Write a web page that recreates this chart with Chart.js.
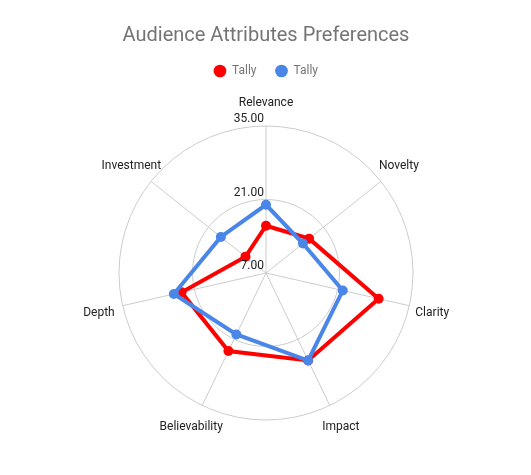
<!DOCTYPE html>
<html>
<head>
<meta charset="utf-8">
<script src="https://cdn.jsdelivr.net/npm/chart.js@4"></script>
<style>
	html, body { margin: 0; padding: 0; background: #fff; }
	#wrap { width: 531px; height: 475px; }
</style>
</head>
<body>
<div id="wrap"><canvas id="radar"></canvas></div>
<script>
// podatki
let atributi = ["Relevance", "Novelty", "Clarity", "Impact", "Believability", "Depth", "Investment"];
let tallyRdeca = [16, 17.5, 29, 25.5, 23.5, 23.5, 12];
let tallyModra = [20, 16, 22, 25.5, 20, 25, 18];
let imenaSerij = ["Tally", "Tally"];
let skala = { min: 7, max: 35, korak: 14 };

// postavitev oznak osi glede na konec osi: [dx, dy, poravnava]
let zamikOznak = [
	[0, -23, "center"],
	[-2, -15, "left"],
	[6, 7, "left"],
	[11, 22, "center"],
	[-11, 22, "center"],
	[-8, 7, "right"],
	[10, -15, "right"]
];

// oznake osi in vrednosti (v stilu google grafa)
let oznake = {
	id: "oznake",
	afterDraw(chart) {
		let s = chart.scales.r;
		let c = chart.ctx;
		c.save();
		c.font = "12px Roboto";
		c.fillStyle = "#222222";

		c.textBaseline = "middle";
		for (let i = 0; i < atributi.length; i++) {
			let p = s.getPointPosition(i, s.drawingArea);
			let z = zamikOznak[i];
			c.textAlign = z[2];
			c.fillText(atributi[i], p.x + z[0], p.y + z[1]);
		}

		c.textAlign = "right";
		c.textBaseline = "bottom";
		s.ticks.forEach(t => {
			let d = s.getDistanceFromCenterForValue(t.value);
			c.fillText(t.value.toFixed(2), s.xCenter - 2, s.yCenter - d - 1);
		});
		c.restore();
	}
};

let graf = new Chart("radar", {
	type: "radar",
	data: {
		labels: atributi,
		datasets: [{
			label: imenaSerij[0],
			data: tallyRdeca,
			borderColor: "#ff0000",
			backgroundColor: "#ff0000",
			pointBackgroundColor: "#ff0000",
			borderWidth: 4,
			pointRadius: 5,
			pointBorderWidth: 0,
			fill: false,
			order: 1
		},
		{
			label: imenaSerij[1],
			data: tallyModra,
			borderColor: "#4a86e8",
			backgroundColor: "#4a86e8",
			pointBackgroundColor: "#4a86e8",
			borderWidth: 4,
			pointRadius: 5,
			pointBorderWidth: 0,
			fill: false,
			order: 0
		}]
	},
	options: {
		responsive: true,
		maintainAspectRatio: false,
		animation: false,
		layout: { padding: { left: 119, right: 118, bottom: 16 } },
		elements: { line: { tension: 0 } },
		plugins: {
			title: {
				display: true,
				text: "Audience Attributes Preferences",
				color: "#757575",
				font: { family: "Roboto", size: 20, weight: "normal", lineHeight: 1 },
				padding: { top: 26, bottom: 0 }
			},
			legend: {
				display: true,
				labels: {
					usePointStyle: true,
					pointStyle: "circle",
					boxHeight: 9,
					color: "#757575",
					font: { family: "Roboto", size: 12 },
					padding: 19,
					sort: (a, b) => a.datasetIndex - b.datasetIndex,
					generateLabels(chart) {
						let items = Chart.defaults.plugins.legend.labels.generateLabels(chart);
						items.forEach(i => { i.lineWidth = 0; });
						return items;
					}
				}
			},
			tooltip: { enabled: false }
		},
		scales: {
			r: {
				min: skala.min,
				max: skala.max,
				ticks: { stepSize: skala.korak, display: false },
				grid: { circular: true, color: "#cccccc", lineWidth: 1 },
				angleLines: { color: "#cccccc", lineWidth: 1 },
				pointLabels: { display: false }
			}
		}
	},
	plugins: [oznake]
});
</script>
</body>
</html>
